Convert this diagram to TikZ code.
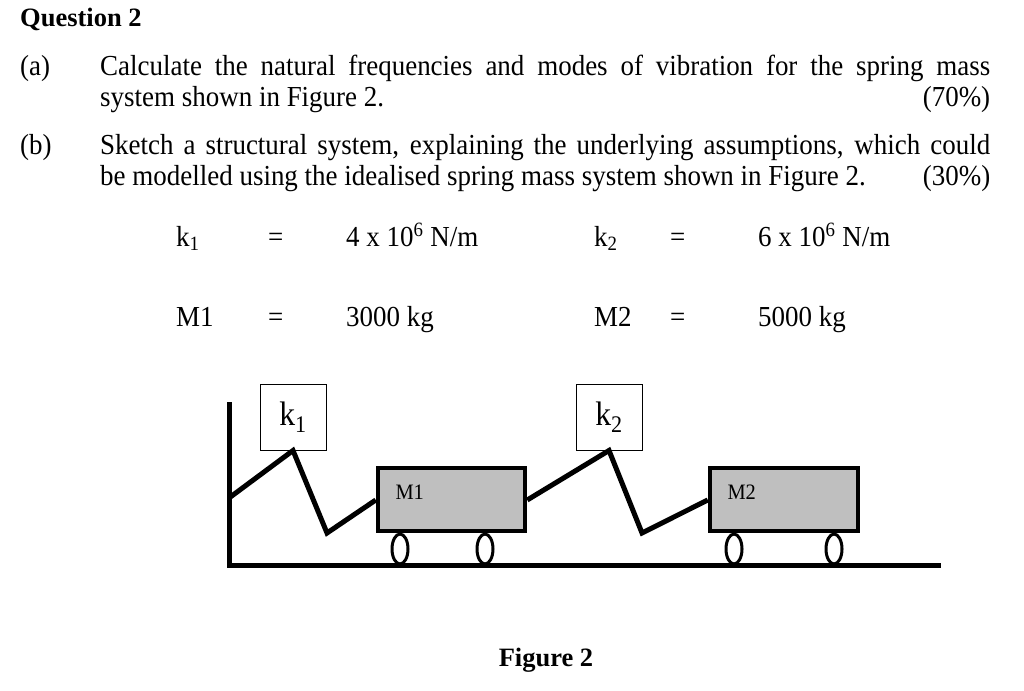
\documentclass[tikz,border=0pt]{standalone}
\usepackage{fontspec}
\setmainfont{Liberation Serif}[FakeStretch=0.93]
\newfontfamily\qfont{Liberation Serif}[FakeStretch=1.0]
\begin{document}
\begin{tikzpicture}[x=1pt,y=-1pt,
  txt/.style={anchor=base west,inner sep=0,font=\fontsize{29}{31}\selectfont},
  box/.style={draw,line width=1pt,fill=white},
  mass/.style={draw,line width=4.5pt,fill=gray!50},
  wheel/.style={draw,line width=3pt,fill=white}]
\useasboundingbox (0,0) rectangle (1024,690);
\node[txt,font=\qfont\bfseries\fontsize{26.5}{30}\selectfont] (q) at (20,27) {Question 2};
\node[txt] (a) at (20,76) {(a)};
\node[txt,text width=890pt,align=justify] (at) at (100,76) {Calculate the natural frequencies and modes of vibration for the spring mass\linebreak system shown in Figure 2.\hfill(70\%)};
\node[txt] (b) at (20,154) {(b)};
\node[txt,text width=890pt,align=justify] (bt) at (100,154) {Sketch a structural system, explaining the underlying assumptions, which could\linebreak be modelled using the idealised spring mass system shown in Figure 2.\hfill(30\%)};
\node[txt] (k1l) at (176,246) {k\textsubscript{1}};
\node[txt] (e1) at (268,246) {=};
\node[txt] (v1) at (346,246) {4 x 10\textsuperscript{6} N/m};
\node[txt] (k2l) at (594,246) {k\textsubscript{2}};
\node[txt] (e2) at (670,246) {=};
\node[txt] (v2) at (758,246) {6 x 10\textsuperscript{6} N/m};
\node[txt] (m1l) at (176,326) {M1};
\node[txt] (e3) at (268,326) {=};
\node[txt] (v3) at (346,326) {3000 kg};
\node[txt] (m2l) at (594,326) {M2};
\node[txt] (e4) at (670,326) {=};
\node[txt] (v4) at (758,326) {5000 kg};
% figure
\coordinate (wt) at (229,402);
\coordinate (wb) at (229,565);
\coordinate (ge) at (941,565);
\draw[line width=5pt] (wt) -- (wb) -- (ge);
\node[box,minimum width=66pt,minimum height=66pt,font=\fontsize{34}{34}\selectfont] (kb1) at (293,417) {k\textsubscript{1}};
\node[box,minimum width=66pt,minimum height=66pt,font=\fontsize{34}{34}\selectfont] (kb2) at (609,417) {k\textsubscript{2}};
\node[mass,minimum width=147pt,minimum height=63pt] (M1) at (451.5,499.5) {};
\node[mass,minimum width=148pt,minimum height=63pt] (M2) at (784,499.5) {};
\node[anchor=base west,font=\fontsize{22}{22}\selectfont] (m1t) at (392,499) {M1};
\node[anchor=base west,font=\fontsize{22}{22}\selectfont] (m2t) at (724,499) {M2};
\foreach \x/\n in {400/w1,485/w2,734/w3,834/w4}
  \draw[wheel] (\x,549) ellipse (8 and 15);
\draw[line width=5pt,line join=miter] (229,498) -- (kb1.south) -- (327,533) -- (M1.west|-0,500);
\draw[line width=5pt,line join=miter] (M1.east|-0,500) -- (kb2.south) -- (642,533) -- (M2.west|-0,500);
\node[font=\qfont\bfseries\fontsize{26.5}{30}\selectfont] (fig) at (546,660) {Figure 2};
\end{tikzpicture}
\end{document}
